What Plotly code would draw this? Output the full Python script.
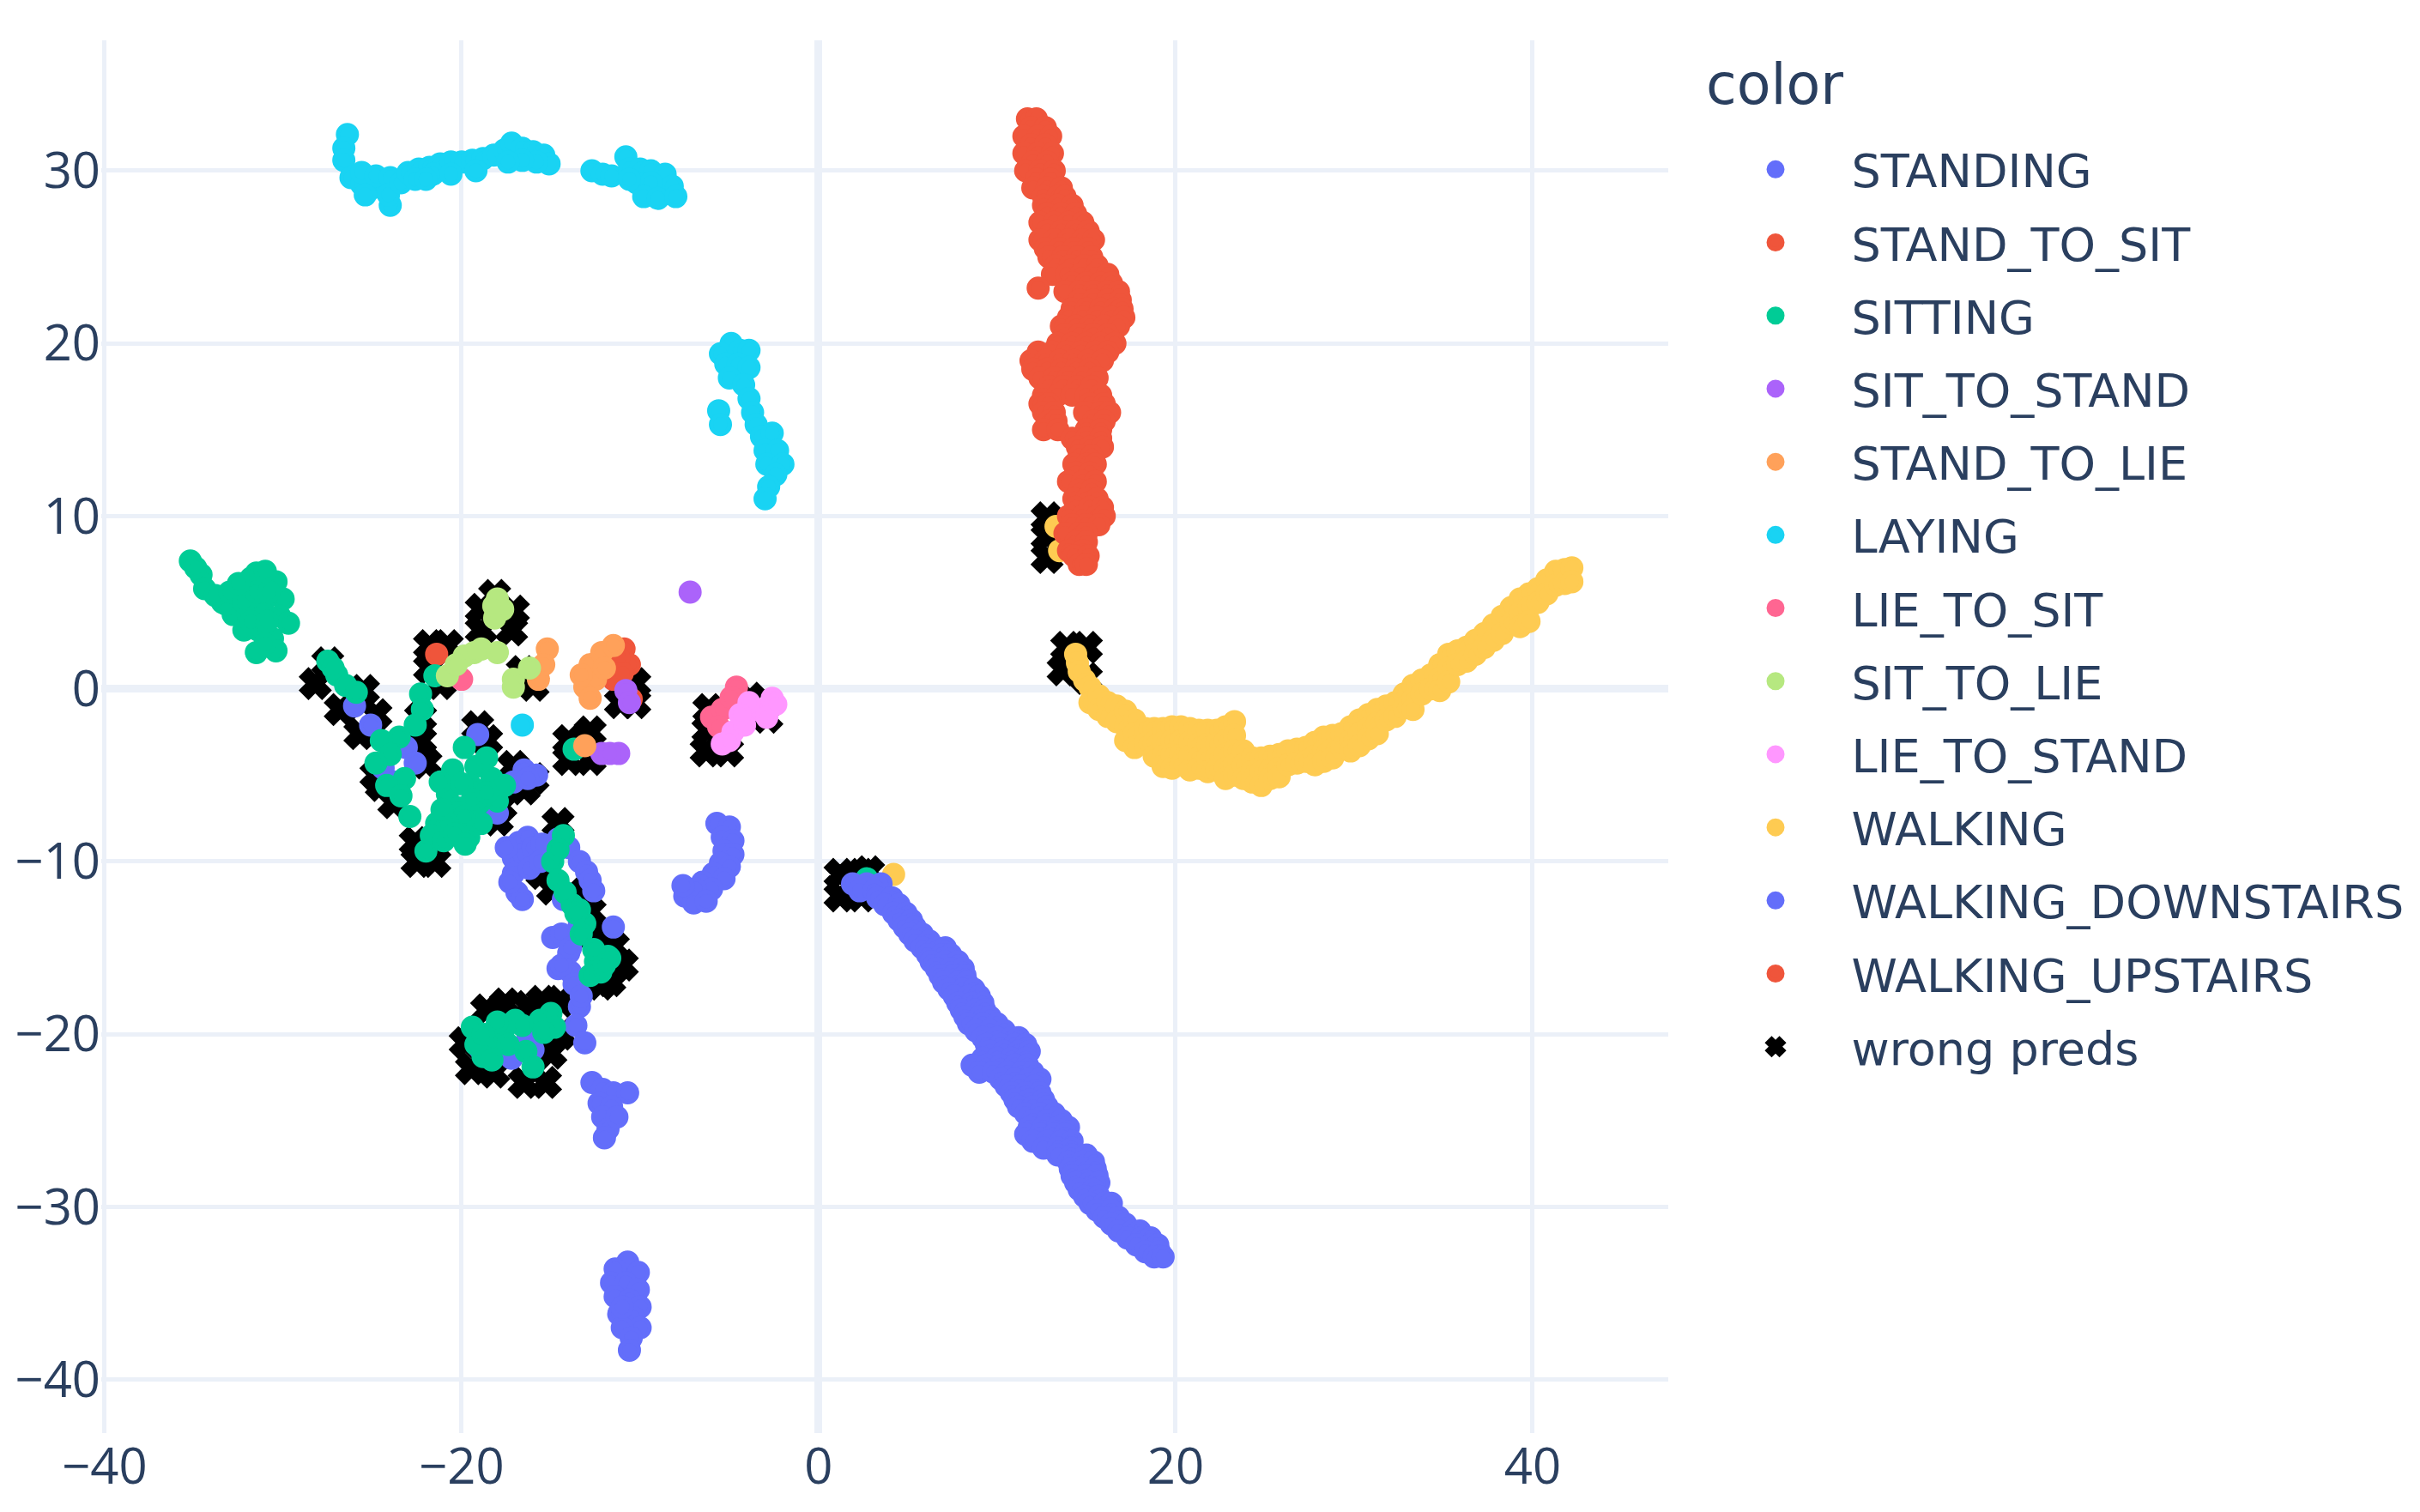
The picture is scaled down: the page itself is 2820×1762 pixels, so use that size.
import plotly.graph_objects as go

# activity classes in legend order, with plotly default colours
classes = ["STANDING", "STAND_TO_SIT", "SITTING", "SIT_TO_STAND", "STAND_TO_LIE", "LAYING",
           "LIE_TO_SIT", "SIT_TO_LIE", "LIE_TO_STAND", "WALKING", "WALKING_DOWNSTAIRS",
           "WALKING_UPSTAIRS"]
colors = ["#636efa", "#EF553B", "#00cc96", "#ab63fa", "#FFA15A", "#19d3f3",
          "#FF6692", "#B6E880", "#FF97FF", "#FECB52", "#636efa", "#EF553B"]

# 2-d embedding coordinates
standing_x = [-10.7, -11.4, -10.1, -11.6, -10.8, -10.1, -11.4, -10.6, -10.0, -11.2, -10.4,
              -10.0, -11.0, -10.5, -10.6, -11.0,
              -12.7, -12.1, -11.5, -10.7, -12.3, -11.6, -12.1, -11.8, -12.0, -11.3,
              -5.7, -5.0, -5.4, -4.8, -5.3, -4.8, -5.5, -5.0, -5.9, -5.3, -6.5, -6.0, -6.9,
              -7.5, -7.0, -6.3, -7.6,
              -16.8, -16.3, -17.1, -16.5, -17.1, -16.9, -16.0, -15.5, -14.6, -14.0, -13.4,
              -13.0, -12.8, -12.6, -14.3, -13.4, -14.9, -14.4, -14.0, -14.6, -13.9, -13.7,
              -13.4, -13.3, -11.5, -13.6, -13.1, -14.4, -13.9, -17.5, -16.2, -15.6, -16.6,
              -17.3,
              -26.0, -25.1, -23.1, -22.6, -23.8, -24.4, -19.1, -16.5, -17.1, -15.8, -16.3,
              -18.0, -16.3, -16.0, -19.0, -17.2]
standing_y = [-33.2, -33.6, -33.8, -34.4, -34.4, -34.8, -35.2, -35.4, -35.8, -36.2, -36.4,
              -37.0, -37.0, -37.6, -38.3, -35.8,
              -22.8, -23.2, -23.4, -23.4, -24.0, -24.2, -24.8, -25.5, -26.0, -24.8,
              -7.8, -8.0, -8.6, -8.8, -9.4, -9.6, -10.1, -10.3, -10.7, -11.0, -11.2, -11.6, -11.6,
              -12.0, -12.4, -12.3, -11.4,
              -8.9, -8.6, -9.8, -9.6, -10.7, -11.8, -9.2, -9.0, -8.7, -9.2, -10.0,
              -10.6, -11.1, -11.7, -12.2, -13.6, -14.4, -14.2, -15.3, -16.2, -16.4, -17.1,
              -18.4, -17.8, -13.8, -19.5, -20.5, -16.0, -15.0, -9.2, -10.4, -10.0, -12.2,
              -11.2,
              -1.0, -2.1, -3.4, -4.3, -5.4, -4.6, -2.65, -4.7, -5.4, -5.0, -5.2,
              -7.2, -20.3, -20.9, -20.8, -21.4]

stand_to_sit_x = [-21.4, -10.9, -10.6, -11.5, -11.2, -10.5, -11.0]
stand_to_sit_y = [2.0, 2.3, 1.4, 0.55, 1.8, -0.6, 0.9]

sitting_x = [-35.2, -34.6, -34.4, -33.4, -32.6, -31.8, -31.2, -30.4, -30.0, -31.0, -32.8, -32.0,
             -31.2, -30.2, -29.7, -32.2, -31.4, -30.6, -31.5, -30.4, -31.5, -33.2,
             -34.9, -33.8, -33.0, -32.2, -31.5, -30.8, -31.8, -30.9, -31.0, -32.5, -31.0,
             -27.5, -27.0, -26.5, -25.9, -22.3, -22.2, -22.6, -23.5, -24.5, -24.0, -24.8, -24.2,
             -23.2, -23.4, -22.9, -21.4, -21.7, -22.0, -21.0, -27.2,
             -19.85, -20.5, -19.2, -20.8, -19.5, -18.3, -20.2, -18.9, -19.85, -18.0, -20.8, -19.0,
             -18.6, -17.6, -19.6, -21.2, -20.0, -19.4, -18.6, -20.4, -19.8, -21.1,
             -14.3, -14.9, -14.6, -13.8, -13.1, -13.4, -12.5, -11.8, -12.8, -12.2, -11.7,
             -14.6, -14.2, -13.6, -13.3, -12.6, -12.0,
             -19.4, -18.4, -17.0, -18.8, -16.0, -15.0, -14.8, -17.7, -18.0, -19.2, -16.4,
             -18.8, -17.4, -16.6, -15.6, -15.4, -18.3,
             -13.7, -21.5, 2.7]
sitting_y = [7.4, 6.6, 5.8, 5.0, 5.6, 6.4, 6.0, 6.2, 5.2, 5.2, 4.3, 4.4,
             4.5, 4.2, 3.8, 3.4, 3.4, 2.9, 2.1, 2.2, 6.7, 4.9,
             7.0, 5.4, 5.6, 5.0, 5.6, 5.6, 3.9, 3.9, 2.6, 6.1, 6.8,
             1.6, 0.8, 0.2, -0.2, -0.3, -1.2, -2.1, -2.8, -3.0, -3.8, -4.3, -5.6,
             -5.2, -6.2, -7.4, -7.8, -8.5, -9.4, -8.8, 1.2,
             -3.4, -4.7, -4.5, -6.1, -5.6, -5.2, -6.9, -7.8, -7.4, -6.5, -7.8, -6.6,
             -4.0, -5.6, -8.6, -5.4, -5.5, -6.4, -6.0, -8.4, -9.0, -7.0,
             -8.5, -10.0, -11.1, -12.5, -13.6, -12.8, -15.8, -15.5, -16.6, -16.4, -15.6,
             -9.3, -11.8, -13.0, -14.2, -15.1, -16.0,
             -19.6, -20.5, -19.2, -21.3, -21.9, -18.8, -19.6, -19.96, -19.3, -20.6, -21.0,
             -20.0, -20.6, -19.5, -19.2, -19.9, -21.5,
             -3.5, 0.75, -11.0]

sit_to_stand_x = [-7.2, -10.8, -10.6, -12.15, -11.2, -11.7]
sit_to_stand_y = [5.6, -0.1, -0.8, -3.75, -3.75, -3.75]

stand_to_lie_x = [-15.2, -15.7, -15.4, -12.8, -13.1, -12.15, -11.5, -12.5, -12.8, -13.3, -12.0, -13.1]
stand_to_lie_y = [2.3, 0.55, 1.4, 1.4, 0.1, 2.1, 2.5, 0.55, -0.55, 0.8, 1.2, -3.3]

laying_x = [-26.4, -26.6, -26.6, -26.2, -25.6, -25.0, -24.4, -25.6, -24.8, -24.0, -24.0, -24.1,
            -23.4, -23.0, -22.4, -21.8, -21.2, -20.6, -20.0, -19.4, -18.8, -18.2, -17.6, -17.2,
            -16.6, -16.0, -15.4, -15.1, -15.8, -16.6, -17.4, -22.6, -21.6, -25.4,
            -22.0, -20.6, -19.2,
            -12.7, -12.1, -11.6, -10.8, -10.6, -10.0, -9.4, -8.6, -8.2, -10.2, -9.4, -9.8,
            -9.0, -8.0, -10.6,
            -4.9, -5.5, -4.4, -3.9, -5.2, -4.5, -3.9, -5.0, -4.2, -3.9, -3.7, -3.5, -3.2,
            -2.6, -3.0, -2.3, -2.9, -2.0, -2.4, -2.8, -3.0, -5.6, -5.5,
            -16.6]
laying_y = [32.1, 31.3, 30.6, 29.6, 29.2, 29.0, 29.0, 29.9, 29.7, 29.6, 28.0, 28.6,
            29.3, 29.9, 30.1, 30.2, 30.4, 30.5, 30.5, 30.6, 30.7, 30.9, 31.2, 31.6,
            31.3, 31.1, 30.9, 30.4, 30.5, 30.6, 30.5, 29.5, 29.8, 28.6,
            29.5, 29.8, 30.0,
            30.0, 29.8, 29.7, 30.8, 30.1, 30.1, 30.0, 29.8, 29.1, 29.3, 29.3, 28.5,
            28.4, 28.5, 29.5,
            20.0, 19.4, 19.6, 19.6, 18.8, 18.8, 18.6, 18.0, 17.6, 16.8, 16.0, 15.3, 14.6,
            14.8, 13.8, 13.8, 13.0, 13.0, 12.4, 11.7, 11.0, 16.1, 15.3,
            -2.1]

lie_to_sit_x = [-20.0, -6.0, -4.6, -5.4, -4.9, -5.6]
lie_to_sit_y = [0.55, -1.65, 0.1, -1.2, -0.5, -2.2]

sit_to_lie_x = [-18.0, -18.15, -17.7, -18.2, -19.85, -18.9, -18.0, -20.8, -20.3, -17.1, -16.2,
                -17.1, -19.3]
sit_to_lie_y = [5.2, 4.1, 4.6, 4.8, 1.9, 2.3, 2.1, 0.75, 1.4, 0.55, 1.2, 0.1, 2.1]

lie_to_stand_x = [-4.8, -3.5, -2.6, -5.4, -2.9, -4.15, -3.9, -2.4, -4.4, -5.0]
lie_to_stand_y = [-2.5, -1.2, -0.55, -3.2, -1.65, -2.1, -0.8, -0.9, -1.5, -3.0]

# the long clusters are kept as columns (x, list of y) or rows (y, list of x)
walking_cols = [(14.4, [2.0]), (14.5, [1.5]), (14.6, [1.0]), (14.9, [0.5]), (15.2, [0.1, -0.8]),
                (15.7, [-0.4, -1.2]), (16.2, [-0.8, -1.6]), (16.7, [-1.0, -1.9]),
                (17.2, [-1.3, -2.2, -3.0]), (17.7, [-1.8, -2.6, -3.4]), (18.3, [-2.3, -3.2]),
                (18.8, [-2.3, -3.1, -3.9]), (19.3, [-2.3, -3.1, -3.9, -4.5]),
                (19.8, [-2.2, -3.0, -3.8, -4.6]), (20.3, [-2.2, -3.0, -3.8, -4.4]),
                (20.8, [-2.3, -3.1, -3.9, -4.7]), (21.3, [-2.4, -3.2, -4.0, -4.6]),
                (21.8, [-2.4, -3.2, -4.0, -4.8]), (22.3, [-2.4, -3.2, -4.0, -4.7]),
                (22.8, [-2.2, -3.0, -3.8, -4.6, -5.2]), (23.3, [-1.9, -2.7, -3.6, -4.4, -5.0]),
                (23.8, [-3.6, -4.4, -5.2]), (24.3, [-4.0, -4.8, -5.4]), (24.8, [-4.0, -4.8, -5.6]),
                (25.3, [-3.9, -4.7, -5.2]), (25.8, [-3.8, -4.6, -5.1]), (26.3, [-3.6, -4.4]),
                (26.8, [-3.5, -4.3]), (27.3, [-3.4, -4.2]), (27.8, [-3.1, -3.9, -4.4]),
                (28.3, [-2.8, -3.6, -4.2]), (28.8, [-2.7, -3.5, -4.0]), (29.3, [-2.6, -3.4]),
                (29.8, [-2.2, -3.0, -3.6]), (30.3, [-1.8, -2.6, -3.3]), (30.8, [-1.5, -2.3, -2.9]),
                (31.3, [-1.2, -2.0, -2.6]), (31.8, [-1.0, -1.8]), (32.3, [-0.8, -1.6]),
                (32.8, [-0.3, -1.1]), (33.3, [0.2, -0.6, -1.2]), (33.8, [0.5, -0.3]),
                (34.3, [0.8, 0.0]), (34.8, [1.4, 0.6, -0.1]), (35.3, [2.0, 1.2, 0.4]),
                (35.8, [2.2, 1.4]), (36.3, [2.4, 1.6]), (36.8, [2.8, 2.0]), (37.3, [3.2, 2.4]),
                (37.8, [3.7, 2.8]), (38.3, [4.2, 3.2]), (38.8, [4.7, 3.8]),
                (39.3, [5.2, 4.4, 3.6]), (39.8, [5.5, 4.7, 3.9]), (40.3, [5.8, 5.0]),
                (40.8, [6.3, 5.5]), (41.3, [6.8, 6.0]), (41.8, [6.9, 6.1]), (42.2, [7.0, 6.2]),
                (13.3, [9.4]), (13.5, [8.0]), (4.2, [-10.75])]

downstairs_rows = [(-11.3, [1.9, 2.7, 3.5]), (-11.7, [2.3, 3.1]), (-12.1, [3.3, 4.1]),
                   (-12.5, [3.7, 4.5]), (-13.0, [4.2, 4.9]), (-13.4, [4.5, 5.2]),
                   (-13.8, [4.8, 5.4]), (-14.2, [5.1, 5.8]), (-14.6, [5.4, 6.2]),
                   (-15.0, [5.8, 6.6, 7.1]), (-15.4, [6.1, 6.9, 7.4]), (-15.8, [6.3, 7.1, 7.8]),
                   (-16.2, [6.6, 7.4, 8.1]), (-16.6, [6.8, 7.6, 8.2]), (-17.0, [7.0, 7.8, 8.3]),
                   (-17.4, [7.3, 8.1, 8.7]), (-17.8, [7.6, 8.4, 9.0]), (-18.2, [7.8, 8.6, 9.2]),
                   (-18.6, [8.0, 8.8, 9.3]), (-19.0, [8.2, 9.0, 9.6]), (-19.4, [8.4, 9.2, 10.0]),
                   (-19.8, [8.8, 9.6, 10.4]), (-20.2, [9.2, 10.0, 10.8, 11.2]),
                   (-20.6, [9.4, 10.2, 11.0, 11.6]), (-21.0, [9.6, 10.4, 11.2, 11.8]),
                   (-21.4, [9.2, 10.0, 10.8, 11.6]), (-21.8, [8.6, 9.4, 10.2, 11.0, 11.7]),
                   (-22.2, [9.0, 9.8, 10.6, 11.4, 12.0]), (-22.6, [10.2, 11.0, 11.8, 12.4]),
                   (-23.0, [10.5, 11.3, 12.1]), (-23.4, [10.8, 11.6, 12.4]),
                   (-23.8, [11.0, 11.8, 12.6]), (-24.2, [11.2, 12.0, 12.8]),
                   (-24.6, [11.6, 12.4, 13.2]), (-25.0, [12.0, 12.8, 13.6]),
                   (-25.4, [11.8, 12.6, 13.4, 14.0]), (-25.8, [11.6, 12.4, 13.2, 13.8]),
                   (-26.2, [12.0, 12.8, 13.6, 14.2]), (-26.6, [12.6, 13.4, 14.2]),
                   (-27.0, [13.4, 14.2, 15.0]), (-27.4, [14.0, 14.8, 15.4]),
                   (-27.8, [14.1, 14.9, 15.5]), (-28.2, [14.2, 15.0, 15.6]),
                   (-28.6, [14.4, 15.2, 15.7]), (-29.0, [14.6, 15.4]), (-29.4, [14.9, 15.7]),
                   (-29.8, [15.2, 16.0, 16.4]), (-30.2, [15.6, 16.4]), (-30.6, [16.0, 16.8]),
                   (-31.0, [16.4, 17.2]), (-31.4, [16.8, 17.6, 18.0]),
                   (-31.8, [17.3, 18.1, 18.6]), (-32.2, [17.8, 18.6, 19.0]),
                   (-32.6, [18.3, 19.1]), (-32.9, [18.8, 19.3])]

upstairs_rows = [(33.0, [11.7, 12.2]), (32.5, [11.9, 12.7]), (32.0, [11.5, 12.3, 13.0]),
                 (31.5, [11.9, 12.7]), (31.0, [11.5, 12.3, 13.1]), (30.5, [12.0, 12.8]),
                 (30.0, [11.6, 12.4, 13.2]), (29.5, [12.2, 13.0]), (29.0, [12.0, 12.8, 13.6]),
                 (28.5, [12.6, 13.4, 13.8]), (28.0, [12.6, 13.4, 14.2]),
                 (27.5, [12.8, 13.6, 14.4]), (27.0, [12.4, 13.2, 14.0, 14.8]),
                 (26.5, [12.8, 13.6, 14.4, 15.1]), (26.0, [12.4, 13.2, 14.0, 14.8, 15.4]),
                 (25.5, [12.7, 13.5, 14.3, 15.1]), (25.0, [12.9, 13.7, 14.5, 15.3]),
                 (24.5, [13.3, 14.1, 14.9, 15.6]), (24.0, [13.1, 13.9, 14.7, 15.5, 16.2]),
                 (23.5, [14.2, 15.0, 15.8, 16.4]), (23.2, [12.3]),
                 (23.0, [13.8, 14.6, 15.4, 16.2, 16.8]), (22.5, [14.6, 15.4, 16.2, 16.9]),
                 (22.0, [14.2, 15.0, 15.8, 16.6, 17.0]), (21.5, [14.0, 14.8, 15.6, 16.4, 17.1]),
                 (21.0, [13.6, 14.4, 15.2, 16.0, 16.8]), (20.5, [13.8, 14.6, 15.4, 16.2]),
                 (20.0, [13.4, 14.2, 15.0, 15.8, 16.6]),
                 (19.5, [12.3, 13.1, 13.9, 14.7, 15.5, 16.2]),
                 (19.0, [11.9, 12.7, 13.5, 14.3, 15.1, 15.9]),
                 (18.5, [12.0, 12.8, 13.6, 14.4, 15.2]), (18.0, [12.4, 13.2, 14.0, 14.8, 15.6]),
                 (17.5, [12.9, 13.7, 14.5, 15.3]), (17.0, [12.6, 13.4, 14.2, 15.0, 15.8]),
                 (16.5, [12.4, 12.9, 15.2, 16.0]), (16.0, [12.6, 13.2, 14.9, 15.8, 16.3]),
                 (15.5, [12.9, 13.3, 15.4, 16.0]), (15.0, [12.6, 13.4, 15.0, 15.8]),
                 (14.5, [14.2, 15.0, 15.8]), (14.0, [14.5, 15.2, 15.9]), (13.5, [14.6, 15.3]),
                 (13.0, [14.3, 15.0, 15.5]), (12.5, [14.4, 15.2]), (12.0, [14.0, 14.8, 15.5]),
                 (11.5, [14.6, 15.3]), (11.0, [14.3, 15.0, 15.6]), (10.5, [14.4, 15.2, 15.9]),
                 (10.0, [14.0, 14.8, 15.6, 16.0]), (9.5, [14.2, 15.0, 15.7]),
                 (9.0, [13.8, 14.6, 15.0]), (8.5, [14.4, 15.0]), (8.0, [14.0, 14.8]),
                 (7.7, [14.3, 15.1]), (7.2, [14.6, 15.0])]

# misclassified samples
wrong_x = [12.8, 12.8, 12.8, 13.9, 15.0, 13.7, 15.0, 1.2, 1.2, 2.4, 2.8, 2.4,
           -27.5, -28.2, -26.8, -25.5, -24.8, -25.7, -22.3, -22.3, -22.0, -24.5, -23.8, -24.8,
           -22.6, -22.5, -21.5, -19.1, -18.6, -17.1, -16.0, -16.5, -18.0, -17.8,
           -18.9, -17.1, -18.15, -17.2, -18.9, -21.8, -20.8, -21.8, -21.2, -16.6, -16.0,
           -10.3, -10.3, -11.1, -14.0, -12.8, -14.0, -12.8,
           -6.15, -6.3, -5.1, -2.9, -3.85, -6.2,
           -14.6, -15.5, -14.9, -13.1, -12.8, -12.5, -11.5, -11.5, -12.2, -11.0, -11.7,
           -19.8, -19.45, -18.2, -18.6, -17.55, -16.3, -15.5, -14.45, -14.45, -15.0, -16.5, -15.3]
wrong_y = [9.9, 8.8, 7.6, 2.4, 2.4, 1.1, 0.6, -10.75, -12.0, -10.75, -10.6, -12.0,
           1.5, 0.3, -1.2, -0.1, -1.5, -2.6, -1.65, -3.0, -4.3, -5.6, -6.6, -5.0,
           -8.9, -10.0, -10.0, -2.2, -3.0, -4.5, -5.2, -5.8, -7.6, -6.8,
           4.6, 4.5, 5.4, 3.4, 3.4, 2.5, 2.5, 1.2, 0.3, 1.0, 0.2,
           0.3, -0.8, -0.8, -3.0, -2.5, -4.1, -4.1,
           -1.2, -3.6, -3.6, -1.65, -0.55, -2.4,
           -7.8, -10.7, -11.6, -11.8, -12.9, -14.4, -14.9, -16.2, -17.1, -16.0, -16.9,
           -20.5, -22.0, -22.2, -18.6, -18.25, -18.4, -18.1, -18.1, -20.0, -21.1, -22.8, -22.8]

walking_x = [x for x, ys in walking_cols for _ in ys]
walking_y = [y for _, ys in walking_cols for y in ys]
downstairs_x = [x for _, xs in downstairs_rows for x in xs]
downstairs_y = [y for y, xs in downstairs_rows for _ in xs]
upstairs_x = [x for _, xs in upstairs_rows for x in xs]
upstairs_y = [y for y, xs in upstairs_rows for _ in xs]

class_x = [standing_x, stand_to_sit_x, sitting_x, sit_to_stand_x, stand_to_lie_x, laying_x,
           lie_to_sit_x, sit_to_lie_x, lie_to_stand_x, walking_x, downstairs_x, upstairs_x]
class_y = [standing_y, stand_to_sit_y, sitting_y, sit_to_stand_y, stand_to_lie_y, laying_y,
           lie_to_sit_y, sit_to_lie_y, lie_to_stand_y, walking_y, downstairs_y, upstairs_y]

fig = go.Figure()

# wrong predictions go underneath the coloured points but last in the legend
fig.add_trace(go.Scatter(x=wrong_x, y=wrong_y, mode="markers", name="wrong preds",
                         legendgroup="wrong preds", legendrank=2000,
                         marker=dict(symbol="x", size=28, color="black",
                                     line=dict(width=5, color="black"))))

for name, color, xs, ys in zip(classes, colors, class_x, class_y):
    fig.add_trace(go.Scatter(x=xs, y=ys, mode="markers", name=name, legendgroup=name,
                             marker=dict(size=22, color=color, line=dict(width=5, color=color))))

fig.update_layout(template="plotly_white", width=2820, height=1762, autosize=False,
                  margin=dict(l=110, r=884, t=39, b=100),
                  font=dict(family="DejaVu Sans", size=54, color="#2a3f5f"),
                  legend=dict(x=1.02, y=0.933, yanchor="top", itemwidth=167, tracegroupgap=12,
                              traceorder="grouped", font_size=54))

# legend heading
fig.add_annotation(text="color", xref="paper", yref="paper", x=1.023, y=0.968,
                   xanchor="left", yanchor="middle", showarrow=False, font_size=65)

tick_font = dict(family="Open Sans", size=58)
fig.update_xaxes(range=[-40.19, 47.6], dtick=20, tick0=0, gridwidth=4.5,
                 zerolinewidth=9, tickfont=tick_font, automargin=False)
fig.update_yaxes(range=[-43.1, 37.55], dtick=10, tick0=0, gridwidth=4.5,
                 zerolinewidth=9, tickfont=tick_font, automargin=False)

fig.write_html("out.html")
